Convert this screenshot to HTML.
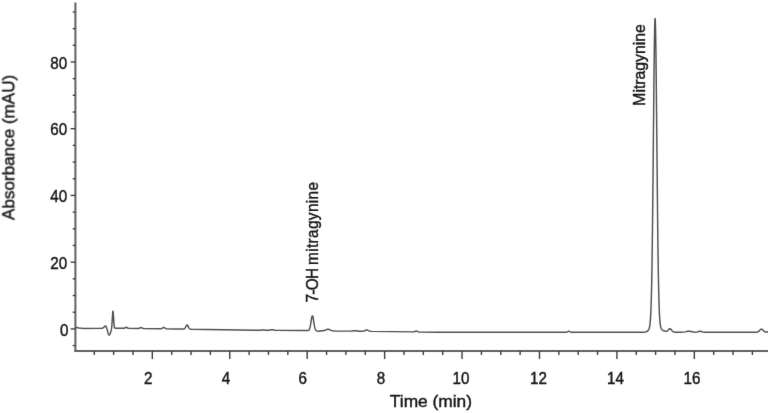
<!DOCTYPE html>
<html lang="en">
<head>
<meta charset="utf-8">
<title>Chromatogram</title>
<style>
html,body{margin:0;padding:0;background:#fff;}
body{width:768px;height:413px;overflow:hidden;}
svg{display:block;will-change:transform;font-family:"Liberation Sans",Arial,Helvetica,sans-serif;}
</style>
</head>
<body>
<svg width="768" height="413" viewBox="0 0 768 413">
<defs>
<filter id="soft" x="0" y="0" width="768" height="413" filterUnits="userSpaceOnUse" color-interpolation-filters="sRGB">
<feConvolveMatrix order="3" kernelMatrix="0.0052 0.0619 0.0052 0.0619 0.7314 0.0619 0.0052 0.0619 0.0052" divisor="1" edgeMode="duplicate" preserveAlpha="true"/>
</filter>
</defs>
<g filter="url(#soft)">
<rect x="0" y="0" width="768" height="413" fill="#ffffff"/>
<line x1="75.4" y1="2.5" x2="75.4" y2="352.0" stroke="#626262" stroke-width="2.0"/>
<line x1="74.4" y1="351.0" x2="768" y2="351.0" stroke="#626262" stroke-width="2.0"/>
<line x1="72.7" y1="345.58" x2="75.4" y2="345.58" stroke="#3c3c3c" stroke-width="1.35"/>
<line x1="70.6" y1="328.90" x2="75.4" y2="328.90" stroke="#3c3c3c" stroke-width="1.35"/>
<line x1="72.7" y1="312.22" x2="75.4" y2="312.22" stroke="#3c3c3c" stroke-width="1.35"/>
<line x1="72.7" y1="295.53" x2="75.4" y2="295.53" stroke="#3c3c3c" stroke-width="1.35"/>
<line x1="72.7" y1="278.85" x2="75.4" y2="278.85" stroke="#3c3c3c" stroke-width="1.35"/>
<line x1="70.6" y1="262.17" x2="75.4" y2="262.17" stroke="#3c3c3c" stroke-width="1.35"/>
<line x1="72.7" y1="245.48" x2="75.4" y2="245.48" stroke="#3c3c3c" stroke-width="1.35"/>
<line x1="72.7" y1="228.80" x2="75.4" y2="228.80" stroke="#3c3c3c" stroke-width="1.35"/>
<line x1="72.7" y1="212.12" x2="75.4" y2="212.12" stroke="#3c3c3c" stroke-width="1.35"/>
<line x1="70.6" y1="195.44" x2="75.4" y2="195.44" stroke="#3c3c3c" stroke-width="1.35"/>
<line x1="72.7" y1="178.75" x2="75.4" y2="178.75" stroke="#3c3c3c" stroke-width="1.35"/>
<line x1="72.7" y1="162.07" x2="75.4" y2="162.07" stroke="#3c3c3c" stroke-width="1.35"/>
<line x1="72.7" y1="145.39" x2="75.4" y2="145.39" stroke="#3c3c3c" stroke-width="1.35"/>
<line x1="70.6" y1="128.70" x2="75.4" y2="128.70" stroke="#3c3c3c" stroke-width="1.35"/>
<line x1="72.7" y1="112.02" x2="75.4" y2="112.02" stroke="#3c3c3c" stroke-width="1.35"/>
<line x1="72.7" y1="95.34" x2="75.4" y2="95.34" stroke="#3c3c3c" stroke-width="1.35"/>
<line x1="72.7" y1="78.66" x2="75.4" y2="78.66" stroke="#3c3c3c" stroke-width="1.35"/>
<line x1="70.6" y1="61.97" x2="75.4" y2="61.97" stroke="#3c3c3c" stroke-width="1.35"/>
<line x1="72.7" y1="45.29" x2="75.4" y2="45.29" stroke="#3c3c3c" stroke-width="1.35"/>
<line x1="72.7" y1="28.61" x2="75.4" y2="28.61" stroke="#3c3c3c" stroke-width="1.35"/>
<line x1="72.7" y1="11.92" x2="75.4" y2="11.92" stroke="#3c3c3c" stroke-width="1.35"/>
<line x1="94.26" y1="351.0" x2="94.26" y2="355.0" stroke="#3c3c3c" stroke-width="1.4"/>
<line x1="113.62" y1="351.0" x2="113.62" y2="355.0" stroke="#3c3c3c" stroke-width="1.4"/>
<line x1="132.97" y1="351.0" x2="132.97" y2="355.0" stroke="#3c3c3c" stroke-width="1.4"/>
<line x1="152.33" y1="351.0" x2="152.33" y2="359.0" stroke="#3c3c3c" stroke-width="1.4"/>
<line x1="171.69" y1="351.0" x2="171.69" y2="355.0" stroke="#3c3c3c" stroke-width="1.4"/>
<line x1="191.05" y1="351.0" x2="191.05" y2="355.0" stroke="#3c3c3c" stroke-width="1.4"/>
<line x1="210.40" y1="351.0" x2="210.40" y2="355.0" stroke="#3c3c3c" stroke-width="1.4"/>
<line x1="229.76" y1="351.0" x2="229.76" y2="359.0" stroke="#3c3c3c" stroke-width="1.4"/>
<line x1="249.12" y1="351.0" x2="249.12" y2="355.0" stroke="#3c3c3c" stroke-width="1.4"/>
<line x1="268.48" y1="351.0" x2="268.48" y2="355.0" stroke="#3c3c3c" stroke-width="1.4"/>
<line x1="287.83" y1="351.0" x2="287.83" y2="355.0" stroke="#3c3c3c" stroke-width="1.4"/>
<line x1="307.19" y1="351.0" x2="307.19" y2="359.0" stroke="#3c3c3c" stroke-width="1.4"/>
<line x1="326.55" y1="351.0" x2="326.55" y2="355.0" stroke="#3c3c3c" stroke-width="1.4"/>
<line x1="345.90" y1="351.0" x2="345.90" y2="355.0" stroke="#3c3c3c" stroke-width="1.4"/>
<line x1="365.26" y1="351.0" x2="365.26" y2="355.0" stroke="#3c3c3c" stroke-width="1.4"/>
<line x1="384.62" y1="351.0" x2="384.62" y2="359.0" stroke="#3c3c3c" stroke-width="1.4"/>
<line x1="403.98" y1="351.0" x2="403.98" y2="355.0" stroke="#3c3c3c" stroke-width="1.4"/>
<line x1="423.34" y1="351.0" x2="423.34" y2="355.0" stroke="#3c3c3c" stroke-width="1.4"/>
<line x1="442.69" y1="351.0" x2="442.69" y2="355.0" stroke="#3c3c3c" stroke-width="1.4"/>
<line x1="462.05" y1="351.0" x2="462.05" y2="359.0" stroke="#3c3c3c" stroke-width="1.4"/>
<line x1="481.41" y1="351.0" x2="481.41" y2="355.0" stroke="#3c3c3c" stroke-width="1.4"/>
<line x1="500.76" y1="351.0" x2="500.76" y2="355.0" stroke="#3c3c3c" stroke-width="1.4"/>
<line x1="520.12" y1="351.0" x2="520.12" y2="355.0" stroke="#3c3c3c" stroke-width="1.4"/>
<line x1="539.48" y1="351.0" x2="539.48" y2="359.0" stroke="#3c3c3c" stroke-width="1.4"/>
<line x1="558.84" y1="351.0" x2="558.84" y2="355.0" stroke="#3c3c3c" stroke-width="1.4"/>
<line x1="578.20" y1="351.0" x2="578.20" y2="355.0" stroke="#3c3c3c" stroke-width="1.4"/>
<line x1="597.55" y1="351.0" x2="597.55" y2="355.0" stroke="#3c3c3c" stroke-width="1.4"/>
<line x1="616.91" y1="351.0" x2="616.91" y2="359.0" stroke="#3c3c3c" stroke-width="1.4"/>
<line x1="636.27" y1="351.0" x2="636.27" y2="355.0" stroke="#3c3c3c" stroke-width="1.4"/>
<line x1="655.62" y1="351.0" x2="655.62" y2="355.0" stroke="#3c3c3c" stroke-width="1.4"/>
<line x1="674.98" y1="351.0" x2="674.98" y2="355.0" stroke="#3c3c3c" stroke-width="1.4"/>
<line x1="694.34" y1="351.0" x2="694.34" y2="359.0" stroke="#3c3c3c" stroke-width="1.4"/>
<line x1="713.70" y1="351.0" x2="713.70" y2="355.0" stroke="#3c3c3c" stroke-width="1.4"/>
<line x1="733.06" y1="351.0" x2="733.06" y2="355.0" stroke="#3c3c3c" stroke-width="1.4"/>
<line x1="752.41" y1="351.0" x2="752.41" y2="355.0" stroke="#3c3c3c" stroke-width="1.4"/>
<text transform="translate(68.5,335.50) scale(0.95,1)" text-anchor="end" font-size="16" fill="#161616" stroke="#161616" stroke-width="0.42">0</text>
<text transform="translate(67.2,268.77) scale(0.95,1)" text-anchor="end" font-size="16" fill="#161616" stroke="#161616" stroke-width="0.42">20</text>
<text transform="translate(67.2,202.04) scale(0.95,1)" text-anchor="end" font-size="16" fill="#161616" stroke="#161616" stroke-width="0.42">40</text>
<text transform="translate(67.2,135.30) scale(0.95,1)" text-anchor="end" font-size="16" fill="#161616" stroke="#161616" stroke-width="0.42">60</text>
<text transform="translate(67.2,68.57) scale(0.95,1)" text-anchor="end" font-size="16" fill="#161616" stroke="#161616" stroke-width="0.42">80</text>
<text transform="translate(148.3,383.9) scale(0.95,1)" text-anchor="middle" font-size="16" fill="#161616" stroke="#161616" stroke-width="0.42">2</text>
<text transform="translate(226.1,383.9) scale(0.95,1)" text-anchor="middle" font-size="16" fill="#161616" stroke="#161616" stroke-width="0.42">4</text>
<text transform="translate(302.8,383.9) scale(0.95,1)" text-anchor="middle" font-size="16" fill="#161616" stroke="#161616" stroke-width="0.42">6</text>
<text transform="translate(381.0,383.9) scale(0.95,1)" text-anchor="middle" font-size="16" fill="#161616" stroke="#161616" stroke-width="0.42">8</text>
<text transform="translate(460.9,383.9) scale(0.95,1)" text-anchor="middle" font-size="16" fill="#161616" stroke="#161616" stroke-width="0.42">10</text>
<text transform="translate(538.4,383.9) scale(0.95,1)" text-anchor="middle" font-size="16" fill="#161616" stroke="#161616" stroke-width="0.42">12</text>
<text transform="translate(615.4,383.9) scale(0.95,1)" text-anchor="middle" font-size="16" fill="#161616" stroke="#161616" stroke-width="0.42">14</text>
<text transform="translate(692.0,383.9) scale(0.95,1)" text-anchor="middle" font-size="16" fill="#161616" stroke="#161616" stroke-width="0.42">16</text>
<text transform="translate(430.9,406.5) scale(1.02,1)" text-anchor="middle" font-size="17.0" fill="#161616" stroke="#161616" stroke-width="0.42">Time (min)</text>
<text transform="translate(14.3,147.4) rotate(-90) scale(1.005,1)" text-anchor="middle" font-size="17.0" fill="#161616" stroke="#161616" stroke-width="0.42">Absorbance (mAU)</text>
<text transform="translate(317.6,302.6) rotate(-90) scale(0.94,1)" text-anchor="start" font-size="16.4" fill="#161616" stroke="#161616" stroke-width="0.42"><tspan letter-spacing="-0.75">7-OH </tspan><tspan letter-spacing="0.37">mitragynine</tspan></text>
<text transform="translate(644.9,105.7) rotate(-90) scale(0.955,1)" text-anchor="start" font-size="16.5" fill="#161616" stroke="#161616" stroke-width="0.42">Mitragynine</text>
<path d="M75.40,327.50 L76.50,327.50 L79.00,328.00 L83.00,328.40 L101.50,328.33 L102.30,328.23 L103.00,327.95 L103.60,327.48 L104.80,326.21 L105.10,326.04 L105.40,326.01 L105.70,326.17 L105.90,326.39 L106.20,326.89 L106.50,327.59 L107.00,329.13 L108.10,333.15 L108.50,334.30 L108.70,334.71 L108.90,334.99 L109.10,335.12 L109.30,335.10 L109.50,334.94 L109.80,334.45 L110.30,333.18 L111.10,330.67 L111.50,328.81 L111.70,327.29 L111.90,325.12 L112.70,312.56 L112.90,311.18 L113.00,311.15 L113.10,311.56 L113.30,313.56 L113.90,322.90 L114.20,325.96 L114.40,327.10 L114.60,327.72 L114.70,327.89 L114.90,328.09 L115.10,328.17 L115.40,328.20 L124.10,328.23 L124.80,328.07 L125.90,327.36 L126.30,327.28 L126.70,327.42 L127.70,328.09 L128.10,328.22 L128.70,328.28 L138.40,328.41 L139.20,328.28 L140.50,327.68 L141.00,327.58 L141.50,327.70 L142.80,328.34 L143.30,328.46 L143.80,328.51 L160.00,328.79 L160.80,328.74 L161.40,328.60 L162.00,328.31 L163.10,327.61 L163.40,327.49 L163.70,327.45 L164.00,327.50 L164.30,327.62 L165.40,328.36 L165.90,328.62 L166.40,328.77 L167.00,328.86 L175.00,329.00 L183.20,329.08 L183.70,329.03 L184.10,328.92 L184.50,328.71 L184.80,328.45 L185.10,328.07 L185.40,327.59 L186.50,325.43 L186.80,325.07 L187.10,324.95 L187.40,325.08 L187.70,325.45 L188.80,327.63 L189.10,328.12 L189.40,328.50 L189.70,328.77 L190.10,329.00 L190.60,329.13 L191.20,329.18 L258.50,330.27 L260.20,330.23 L262.20,329.96 L263.00,329.91 L263.70,329.96 L266.00,330.27 L268.30,330.30 L269.40,330.20 L271.20,329.82 L272.00,329.74 L272.80,329.83 L274.70,330.24 L276.30,330.35 L300.00,330.45 L307.60,330.53 L308.00,330.49 L308.40,330.38 L308.90,330.06 L309.30,329.52 L309.70,328.58 L310.10,327.12 L310.40,325.65 L311.70,317.67 L311.90,316.79 L312.10,316.18 L312.30,315.86 L312.40,315.82 L312.50,315.86 L312.70,316.19 L313.00,317.22 L313.40,319.39 L314.40,325.73 L314.80,327.64 L315.20,329.00 L315.40,329.49 L315.70,330.03 L316.20,330.58 L316.60,330.82 L317.10,331.01 L317.70,331.15 L318.20,331.20 L319.00,331.16 L321.00,330.83 L323.20,330.69 L324.10,330.57 L325.20,330.24 L327.10,329.41 L327.60,329.28 L328.10,329.24 L328.60,329.29 L329.10,329.44 L331.00,330.32 L331.90,330.63 L333.00,330.82 L334.60,330.92 L349.80,331.10 L351.50,331.05 L354.00,330.81 L355.00,330.77 L356.00,330.83 L359.10,331.17 L362.20,331.23 L363.10,331.16 L363.80,331.01 L364.50,330.74 L365.90,330.07 L366.30,329.95 L366.70,329.91 L367.10,329.96 L367.50,330.09 L369.00,330.84 L369.70,331.11 L370.60,331.29 L371.70,331.36 L413.10,331.86 L413.80,331.82 L414.30,331.73 L414.80,331.55 L415.70,331.10 L416.20,331.00 L416.70,331.11 L418.00,331.75 L418.50,331.87 L419.10,331.93 L440.00,332.20 L565.30,332.20 L566.20,332.17 L566.80,332.08 L567.30,331.91 L568.30,331.41 L568.80,331.30 L569.30,331.41 L570.20,331.86 L570.70,332.05 L571.30,332.16 L572.10,332.20 L641.45,332.20 L643.65,332.17 L644.95,332.07 L646.00,331.87 L646.85,331.53 L647.45,331.15 L648.00,330.62 L648.45,330.01 L648.85,329.24 L649.15,328.44 L649.45,327.34 L649.70,326.11 L649.95,324.44 L650.40,319.85 L650.75,314.16 L651.10,305.75 L651.40,295.69 L651.70,282.38 L651.95,268.43 L652.45,232.13 L652.95,185.32 L653.90,85.11 L654.30,50.13 L654.70,26.74 L654.90,20.58 L655.00,19.02 L655.10,18.50 L655.20,19.02 L655.30,20.58 L655.50,26.74 L655.70,36.72 L655.95,53.97 L656.35,90.05 L657.60,219.07 L658.05,255.26 L658.45,279.78 L658.95,301.05 L659.20,308.43 L659.50,315.04 L659.80,319.74 L660.15,323.47 L660.55,326.16 L660.80,327.27 L661.05,328.10 L661.35,328.82 L661.65,329.34 L662.05,329.82 L662.50,330.18 L663.00,330.44 L663.70,330.71 L665.30,331.21 L666.05,331.36 L666.65,331.31 L667.20,331.06 L667.80,330.55 L668.80,329.38 L669.20,328.98 L669.65,328.72 L669.90,328.69 L670.10,328.72 L670.40,328.86 L670.75,329.16 L672.25,331.01 L673.00,331.66 L673.50,331.92 L674.00,332.07 L675.25,332.19 L681.00,332.19 L683.25,332.11 L685.00,331.89 L687.75,331.28 L688.75,331.20 L690.00,331.31 L693.25,331.99 L694.25,332.11 L695.50,332.16 L696.50,332.13 L697.25,332.01 L698.00,331.79 L699.25,331.32 L700.00,331.20 L700.75,331.32 L702.00,331.79 L702.75,332.01 L703.50,332.13 L704.75,332.19 L756.00,332.18 L757.25,332.06 L757.75,331.93 L758.25,331.70 L759.00,331.15 L760.25,329.83 L760.75,329.39 L761.25,329.13 L761.50,329.10 L761.75,329.13 L762.25,329.39 L762.75,329.83 L763.75,330.91 L764.25,331.36 L764.75,331.70 L765.25,331.92 L766.00,332.08 L766.75,332.08 L767.50,331.94 L768.25,331.69" fill="none" stroke="#505050" stroke-width="1.45" stroke-linejoin="round" stroke-linecap="butt"/>
</g>
</svg>
</body>
</html>
